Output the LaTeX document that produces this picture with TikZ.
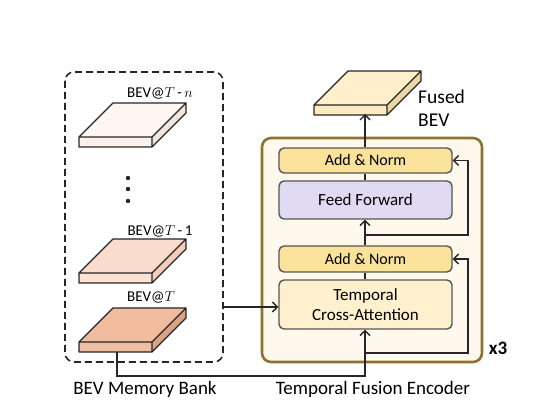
\documentclass[tikz,border=0pt]{standalone}
\usepackage{fontspec}
\setmainfont{Carlito}
\usetikzlibrary{arrows.meta}
\definecolor{encborder}{HTML}{8C7330}
\definecolor{encfill}{HTML}{FEF9EC}
\definecolor{anfill}{HTML}{FAE29B}
\definecolor{fffill}{HTML}{E0DAF3}
\definecolor{cafill}{HTML}{FFF1CE}
\definecolor{boxline}{HTML}{555555}
\definecolor{ntop}{HTML}{FDF6F1}\definecolor{nfront}{HTML}{FCF1EA}\definecolor{nside}{HTML}{F1E5DE}
\definecolor{otop}{HTML}{F9DCCB}\definecolor{ofront}{HTML}{FBE2D3}\definecolor{oside}{HTML}{F1CDBA}
\definecolor{ttop}{HTML}{F2BC9E}\definecolor{tfront}{HTML}{F0BE9F}\definecolor{tside}{HTML}{D9A285}
\definecolor{ftop}{HTML}{FDF0CB}\definecolor{ffront}{HTML}{FCEBC0}\definecolor{fside}{HTML}{EAD7A4}
\tikzset{
  blockbox/.style={draw=boxline, line width=1.4pt, rounded corners=5pt, minimum width=173pt, align=center, inner sep=0pt},
  conn/.style={draw=black!85, line width=1.4pt},
  arr/.style={conn, -{Straight Barb[length=5pt,width=10pt,line width=1.4pt]}},
  lbl/.style={font=\fontsize{19}{22}\selectfont, inner sep=0pt},
  small/.style={font=\fontsize{15}{17}\selectfont, inner sep=0pt},
}
% slab: #1 x of front-left, #2 y of top face front edge, #3 top, #4 front, #5 side
\newcommand{\myslab}[5]{%
  \fill[#3] (#1,#2) -- ++(73,0) -- ++(34,34) -- ++(-73,0) -- cycle;
  \fill[#4] (#1,#2) rectangle ++(73,-10);
  \fill[#5] (#1+73,#2) -- ++(34,34) -- ++(0,-10) -- ++(-34,-34) -- cycle;
  \draw[line width=1.4pt, line join=round, black!85] (#1,#2) -- ++(73,0) -- ++(34,34) -- ++(-73,0) -- cycle
    (#1,#2) -- ++(0,-10) -- ++(73,0) -- ++(0,10)
    (#1+73,#2-10) -- ++(34,34) -- ++(0,10);
}
\begin{document}
\begin{tikzpicture}[x=1pt,y=1pt]
\useasboundingbox (0,0) rectangle (547,-414);
\fill[white] (0,0) rectangle (547,-414);
% memory bank
\draw[line width=1.6pt, dash pattern=on 7pt off 4pt, rounded corners=9pt, black!85] (65,-72) rectangle (223,-362);
\coordinate (bankright) at (223,-307);
% slabs
\myslab{79}{-137}{ntop}{nfront}{nside}
\myslab{79}{-273}{otop}{ofront}{oside}
\myslab{79}{-342}{ttop}{tfront}{tside}
\myslab{314}{-105}{ftop}{ffront}{fside}
\node[small] (ln) at (160,-93) {BEV@$T$\,-\,$n$};
\node[small] (l1) at (160,-231) {BEV@$T$\,-\,1};
\node[small] (lt) at (151,-297) {BEV@$T$};
\foreach \yy in {-178,-189,-201} \fill[black!85] (128,\yy) circle (2.2pt);
\coordinate (tslab) at (117,-352);
\coordinate (fusedbot) at (365,-114);
% encoder
\draw[encborder, fill=encfill, line width=2.6pt, rounded corners=9pt] (262,-138) rectangle (482,-362);
\node[blockbox, fill=anfill, minimum height=25pt, font=\fontsize{16}{18}\selectfont] (an1) at (365.5,-160.5) {Add \& Norm};
\node[blockbox, fill=fffill, minimum height=38pt, font=\fontsize{17}{19}\selectfont] (ff) at (365.5,-200) {Feed Forward};
\node[blockbox, fill=anfill, minimum height=26pt, font=\fontsize{16}{18}\selectfont] (an2) at (365.5,-259) {Add \& Norm};
\node[blockbox, fill=cafill, minimum height=49pt, font=\fontsize{17}{20}\selectfont] (ca) at (365.5,-304.5) {Temporal\\Cross-Attention};
% connectors
\draw[arr] (an1.north -| fusedbot) -- (fusedbot);
\draw[conn] (ff.north -| fusedbot) -- (an1.south -| fusedbot);
\draw[arr] (an2.north -| fusedbot) -- (ff.south -| fusedbot);
\draw[conn] (ca.north -| fusedbot) -- (an2.south -| fusedbot);
\coordinate (r1) at (365,-235);
\coordinate (r2) at (365,-353);
\draw[arr] (r1) -- (468,-235) |- (an1.east);
\draw[arr] (r2) -- (468,-353) |- (an2.east);
\draw[arr] (bankright) -- (bankright -| ca.west);
\draw[arr] (tslab) |- (365,-376) -- (ca.south -| fusedbot);
% labels
\node[lbl, anchor=west, align=left, font=\fontsize{19.5}{23}\selectfont] (fused) at (418,-108) {Fused\\BEV};
\node[lbl] (x3) at (498,-348) {\textbf{x3}};
\node[lbl] (bankl) at (145,-389) {BEV Memory Bank};
\node[lbl] (encl) at (373,-389) {Temporal Fusion Encoder};
\end{tikzpicture}
\end{document}
